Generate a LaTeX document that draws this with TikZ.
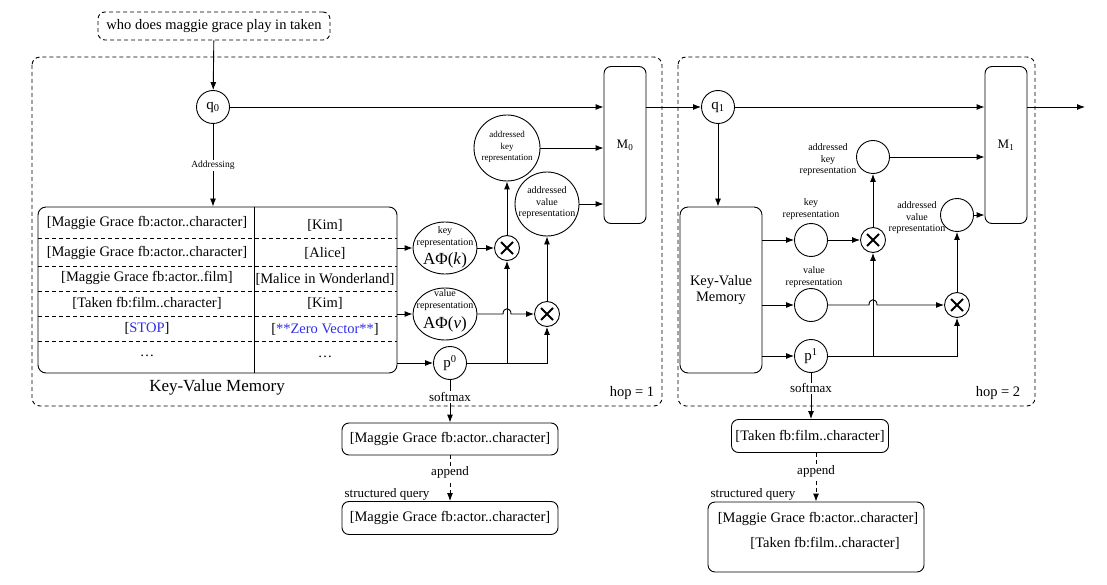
\documentclass[tikz,border=0pt]{standalone}
\usepackage{fontspec}
\setmainfont{Liberation Serif}
\usepackage{tikz}
\usetikzlibrary{arrows.meta,shapes.geometric}
\definecolor{kvblue}{RGB}{45,45,235}
\tikzstyle{cn}=[shape=circle,draw,inner sep=0pt,minimum size=33pt,font=\fontsize{15}{16}\selectfont]
\tikzstyle{rep}=[shape=ellipse,draw,inner sep=0pt,minimum width=64pt,minimum height=52pt]
\tikzstyle{addr}=[shape=circle,draw,inner sep=0pt,minimum size=66pt]
\tikzstyle{mul}=[shape=circle,draw,inner sep=0pt,minimum size=25pt,path picture={\draw[line width=1.8pt] (path picture bounding box.center) +(-6pt,-6pt) -- +(6pt,6pt) +(-6pt,6pt) -- +(6pt,-6pt);}]
\tikzstyle{mem}=[draw,rounded corners=7pt,inner sep=0pt,minimum width=42pt,minimum height=157pt,font=\fontsize{13}{14}\selectfont]
\tikzstyle{kvbox}=[draw,rounded corners=8pt,inner sep=0pt,minimum height=166pt]
\tikzstyle{res}=[draw,rounded corners=7pt,inner sep=0pt,minimum height=32pt]
\tikzstyle{hop}=[draw,dash pattern=on 4pt off 3pt,rounded corners=8pt]
\tikzstyle{to}=[-{Latex[length=8pt,width=6pt]}]
\tikzstyle{lbl}=[font=\fontsize{13}{14}\selectfont,fill=white,inner sep=1pt]
\tikzstyle{small}=[align=center,font=\fontsize{10}{11.5}\selectfont]

\begin{document}
\begin{tikzpicture}[x=1pt,y=-1pt,line width=0.9pt,font=\fontsize{14.5}{16}\selectfont]
\useasboundingbox (0,0) rectangle (1107,585);
% hops
\draw[hop] (32,57) rectangle (662,406);
\draw[hop] (678,57) rectangle (1035,406);
\node at (632,393) {hop = 1};
\node at (998,393) {hop = 2};

% question
\node[draw,dash pattern=on 4pt off 3pt,rounded corners=7pt,minimum width=232pt,minimum height=28pt] (Q) at (214,26) {who does maggie grace play in taken};
\node[cn] (Q0) at (213,107) {q\textsubscript{0}};
\draw[to] (Q) -- (Q0);

% key-value memory, hop 1
\node[kvbox,minimum width=359pt] (KV) at (217.5,290) {};
\draw (254,207) -- (254,373);
\draw[dash pattern=on 4pt off 3pt] (38,238) -- (397,238);
\draw[dash pattern=on 4pt off 3pt] (38,266) -- (397,266);
\draw[dash pattern=on 4pt off 3pt] (38,291) -- (397,291);
\draw[dash pattern=on 4pt off 3pt] (38,316) -- (397,316);
\draw[dash pattern=on 4pt off 3pt] (38,341) -- (397,341);
\node (k1) at (147,223) {[Maggie Grace fb:actor..character]};
\node (k2) at (147,253) {[Maggie Grace fb:actor..character]};
\node (k3) at (147,278) {[Maggie Grace fb:actor..film]};
\node (k4) at (147,303) {[Taken fb:film..character]};
\node (k5) at (147,328) {[\textcolor{kvblue}{STOP}]};
\node (k6) at (147,356) {\dots};
\node (v1) at (325,225) {[Kim]};
\node (v2) at (325,253) {[Alice]};
\node (v3) at (325,279) {[Malice in Wonderland]};
\node (v4) at (325,303) {[Kim]};
\node (v5) at (325,329) {[\textcolor{kvblue}{**Zero Vector**}]};
\node (v6) at (325,357) {\dots};
\node[font=\fontsize{17}{19}\selectfont] (KVt) at (217,387) {Key-Value Memory};
\draw[to] (Q0) -- node[lbl,font=\fontsize{9.5}{10}\selectfont]{Addressing} (Q0 |- KV.north);

% representations, hop 1
\node[rep] (KR) at (445,248) {};
\node[small] (KRs) at (445,237) {key\\representation};
\node[font=\fontsize{17}{19}\selectfont] (KRm) at (445,260) {AΦ(\textit{k})};
\node[rep] (VR) at (445,314) {};
\node[small] (VRs) at (445,300) {value\\representation};
\node[font=\fontsize{17}{19}\selectfont] (VRm) at (445,324) {AΦ(\textit{v})};
\node[cn] (P0) at (450,363) {p\textsuperscript{0}};
\node[mul] (X1) at (507,248) {};
\node[mul] (X2) at (547,314) {};
\node[addr] (AK) at (507,148) {};
\node[small,font=\fontsize{9}{11.5}\selectfont] (AKs) at (507,147) {addressed\\key\\representation};
\node[addr,minimum size=64pt] (AV) at (547,204) {};
\node[small] (AVs) at (547,203) {addressed\\value\\representation};
\node[mem] (M0) at (625,145) {M\textsubscript{0}};

\draw[to] (KV.east |- KR) -- (KR);
\draw[to] (KV.east |- VR) -- (VR);
\draw[to] (KV.east |- P0) -- (P0);
\draw[to] (KR) -- (X1);
\draw[to] (VR) -- (503,314) .. controls (503,307) and (511,307) .. (511,314) -- (X2);
\draw[to] (P0) -| (X2);
\draw[to] (P0 -| X1) -- (X1);
\draw[to] (X1) -- (AK);
\draw[to] (X2) -- (AV);
\draw[to] (Q0) -- (Q0 -| M0.west);
\draw[to] (AK) -- (AK -| M0.west);
\draw[to] (AV) -- (AV -| M0.west);

% hop 2
\node[cn] (Q1) at (718,107) {q\textsubscript{1}};
\node[mem] (M1) at (1006,145) {M\textsubscript{1}};
\coordinate (out) at (1085,107);
\node[kvbox,minimum width=82pt,align=center] (KV2) at (721,290) {Key-Value\\Memory};
\node[cn] (KR2) at (811,240) {};
\node[small] (KR2s) at (811,209) {key\\representation};
\node[cn] (VR2) at (811,305) {};
\node[small] (VR2s) at (814,277) {value\\representation};
\node[cn] (P1) at (811,356) {p\textsuperscript{1}};
\node[mul] (X3) at (873,240) {};
\node[mul] (X4) at (957,305) {};
\node[cn] (AK2) at (873,157) {};
\node[small] (AK2s) at (828,160) {addressed\\key\\representation};
\node[cn] (AV2) at (957,215) {};
\node[small] (AV2s) at (917,218) {addressed\\value\\representation};

\draw[to] (M0.east |- Q1) -- (Q1);
\draw[to] (Q1) -- (Q1 -| M1.west);
\draw[to] (M1.east |- Q1) -- (out);
\draw[to] (Q1) -- (Q1 |- KV2.north);
\draw[to] (KV2.east |- KR2) -- (KR2);
\draw[to] (KV2.east |- VR2) -- (VR2);
\draw[to] (KV2.east |- P1) -- (P1);
\draw[to] (KR2) -- (X3);
\draw[to] (VR2) -- (869,305) .. controls (869,298) and (877,298) .. (877,305) -- (X4);
\draw[to] (P1) -| (X4);
\draw[to] (P1 -| X3) -- (X3);
\draw[to] (X3) -- (AK2);
\draw[to] (X4) -- (AV2);
\draw[to] (AK2) -- (AK2 -| M1.west);
\draw[to] (AV2) -- (AV2 -| M1.west);

% results
\node[res,minimum width=216pt] (R1) at (450,439) {[Maggie Grace fb:actor..character]};
\node[res,minimum width=216pt,minimum height=33pt] (R2) at (450,518) {[Maggie Grace fb:actor..character]};
\node[font=\fontsize{13}{14}\selectfont] (sq1) at (387,494) {structured query};
\draw[to] (P0) -- node[lbl,pos=0.4]{softmax} (R1);
\draw[to,dash pattern=on 4pt off 3pt] (R1) -- node[lbl,pos=0.38]{append} (R2);

\node[res,minimum width=157pt,minimum height=33pt] (R3) at (810,436) {[Taken fb:film..character]};
\node[res,minimum width=216pt,minimum height=70pt] (R4) at (816,537) {};
\node (r4a) at (818,519) {[Maggie Grace fb:actor..character]};
\node (r4b) at (825,543) {[Taken fb:film..character]};
\node[font=\fontsize{13}{14}\selectfont] (sq2) at (753,494) {structured query};
\draw[to] (P1) -- node[lbl,pos=0.33]{softmax} (P1 |- R3.north);
\draw[to,dash pattern=on 4pt off 3pt] (R4 |- R3.south) -- node[lbl,pos=0.38]{append} (R4);
\end{tikzpicture}
\end{document}
